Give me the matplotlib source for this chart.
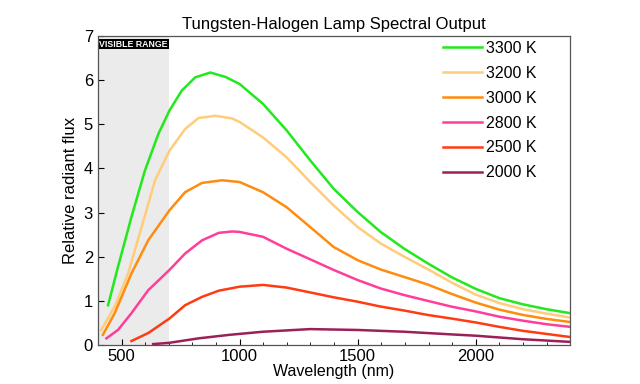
import matplotlib.pyplot as plt
from matplotlib.patches import Rectangle

plt.rcParams['font.family'] = ['Liberation Sans', 'DejaVu Sans']

# Datos (longitud de onda en nm, flujo relativo)
wl_3300 = [443, 485, 542, 599, 656, 703, 755, 812, 876, 940, 1000, 1099, 1199, 1299, 1398, 1500,
           1597, 1697, 1796, 1896, 2000, 2100, 2200, 2300, 2400]
fx_3300 = [0.90, 1.77, 2.90, 3.95, 4.78, 5.31, 5.76, 6.06, 6.17, 6.07, 5.91, 5.46, 4.86, 4.18, 3.54, 3.01,
           2.56, 2.18, 1.85, 1.54, 1.27, 1.06, 0.92, 0.81, 0.72]

wl_3200 = [414, 471, 528, 585, 642, 703, 769, 826, 897, 968, 1000, 1099, 1199, 1299, 1398, 1500,
           1597, 1697, 1796, 1896, 2000, 2100, 2200, 2300, 2400]
fx_3200 = [0.34, 0.87, 1.62, 2.67, 3.73, 4.40, 4.89, 5.14, 5.19, 5.13, 5.05, 4.70, 4.25, 3.69, 3.16, 2.67,
           2.30, 2.00, 1.72, 1.42, 1.14, 0.95, 0.81, 0.71, 0.62]

wl_3000 = [421, 471, 542, 613, 703, 769, 841, 926, 1000, 1099, 1199, 1299, 1398, 1500,
           1597, 1697, 1796, 1896, 2000, 2100, 2200, 2300, 2400]
fx_3000 = [0.23, 0.72, 1.62, 2.37, 3.05, 3.46, 3.67, 3.73, 3.69, 3.46, 3.12, 2.67, 2.22, 1.92,
           1.71, 1.54, 1.37, 1.16, 0.96, 0.80, 0.68, 0.59, 0.52]

wl_2800 = [436, 485, 542, 613, 703, 769, 841, 912, 968, 1000, 1099, 1199, 1299, 1398, 1500,
           1597, 1697, 1796, 1896, 2000, 2100, 2200, 2300, 2400]
fx_2800 = [0.15, 0.34, 0.72, 1.24, 1.70, 2.07, 2.37, 2.54, 2.57, 2.56, 2.45, 2.18, 1.94, 1.70, 1.47,
           1.28, 1.13, 1.00, 0.87, 0.76, 0.64, 0.55, 0.47, 0.41]

wl_2500 = [542, 613, 703, 769, 841, 912, 1000, 1099, 1199, 1299, 1398, 1500,
           1597, 1697, 1796, 1896, 2000, 2100, 2200, 2300, 2400]
fx_2500 = [0.09, 0.27, 0.60, 0.90, 1.09, 1.23, 1.32, 1.36, 1.30, 1.19, 1.08, 0.98,
           0.87, 0.78, 0.68, 0.60, 0.51, 0.41, 0.32, 0.25, 0.18]

wl_2000 = [634, 703, 826, 957, 1099, 1299, 1500, 1697, 1896, 2000, 2200, 2400]
fx_2000 = [0.02, 0.05, 0.15, 0.23, 0.30, 0.36, 0.34, 0.30, 0.24, 0.21, 0.13, 0.07]

series = [
    ('3300 K', wl_3300, fx_3300, '#22e81e'),
    ('3200 K', wl_3200, fx_3200, '#ffcc7a'),
    ('3000 K', wl_3000, fx_3000, '#ff8c0f'),
    ('2800 K', wl_2800, fx_2800, '#ff3d9a'),
    ('2500 K', wl_2500, fx_2500, '#ff3b14'),
    ('2000 K', wl_2000, fx_2000, '#9c2058'),
]

fig = plt.figure(figsize=(6.4, 3.84), dpi=100)
ax = fig.add_axes([0.153, 0.1016, 0.738, 0.805])

# Zona del rango visible
ax.axvspan(400, 700, color='#ebebeb', zorder=0, lw=0)
ax.add_patch(Rectangle((400, 6.70), 300, 0.22, color='black', zorder=1, lw=0))
ax.text(550, 6.81, 'VISIBLE RANGE', color='white', fontsize=6.3, fontweight='bold',
        ha='center', va='center', zorder=2)

for nombre, x, y, c in series:
    ax.plot(x, y, color=c, lw=1.8, label=nombre, solid_joinstyle='round')

ax.set_xlim(400, 2400)
ax.set_ylim(0, 7)
ax.set_xticks([500, 1000, 1500, 2000])
ax.set_xticks(range(400, 2401, 100), minor=True)
ax.set_yticks(range(0, 8))
ax.tick_params(direction='in', labelsize=12, length=4, width=0.8)
ax.tick_params(which='minor', direction='in', length=2.5, width=0.6)
ax.tick_params(axis='x', pad=3)
for s in ax.spines.values():
    s.set_color('#555555')
    s.set_linewidth(0.9)

ax.set_xlabel('Wavelength (nm)', fontsize=11.5, labelpad=0)
ax.set_ylabel('Relative radiant flux', fontsize=12, labelpad=4)
ax.set_title('Tungsten-Halogen Lamp Spectral Output', fontsize=12, pad=5)

ax.legend(loc='upper right', bbox_to_anchor=(0.95, 1.015), frameon=False, fontsize=11.5,
          handlelength=2.4, labelspacing=0.62, handletextpad=0.3, borderaxespad=0.2)

fig.savefig('out.png', dpi=100)
